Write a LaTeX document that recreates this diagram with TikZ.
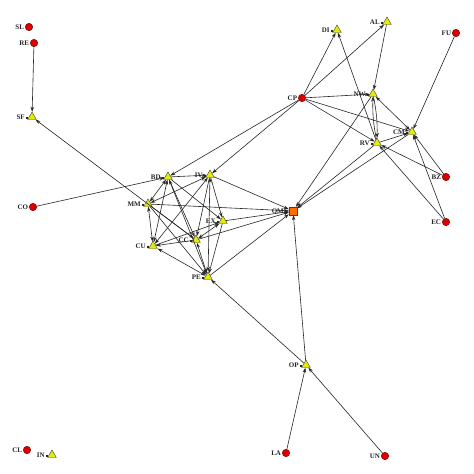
\documentclass[tikz,border=0pt]{standalone}
\usepackage{fontspec}
\setmainfont{Liberation Serif}
\usetikzlibrary{arrows.meta,shapes.geometric}

\newcommand{\tmark}{\,\rule[0.4pt]{2pt}{2pt}}

\begin{document}
\begin{tikzpicture}[x=1pt,y=-1pt,
		>={Stealth[length=5pt,width=3.4pt]},
		rednode/.style={circle, draw=red!45!black, fill=red!85!black, inner sep=0pt, minimum size=7.5pt},
		trinode/.style={regular polygon, regular polygon sides=3, draw=black!75, fill=yellow!90!green, inner sep=0pt, minimum size=10pt},
		sqnode/.style={rectangle, draw=black!75, fill=orange!85!red, inner sep=0pt, minimum size=8pt},
		every label/.style={font=\bfseries\fontsize{7}{8}\selectfont, inner sep=0.8pt, text=black!85},
		link/.style={->, draw=black!85, line width=0.6pt},
		]
		\fill[white] (0,0) rectangle (474,474);
		\useasboundingbox (0,0) rectangle (474,474);
		
		%Nodes
		\node[rednode, label=left:SL] (sl) at (29,27) {};
		\node[rednode, label=left:RE] (re) at (34,43) {};
		\node[trinode, label=left:SF\tmark] (sf) at (32,117) {};
		\node[rednode, label=left:CO] (co) at (33,207) {};
		\node[rednode, label=left:CL] (cl) at (27,450) {};
		\node[trinode, label=left:IN\tmark] (in) at (52,455) {};
		
		\node[trinode, label=left:BD\tmark] (bd) at (168,177) {};
		\node[trinode, label=left:IV\tmark] (iv) at (210,175) {};
		\node[trinode, label=left:MM\tmark] (mm) at (148,204) {};
		\node[trinode, label=left:EX\tmark] (ex) at (223,221) {};
		\node[trinode, label=left:CU\tmark] (cu) at (153,246) {};
		\node[trinode, label=left:CC\tmark] (cc) at (196,240) {};
		\node[trinode, label=left:PE\tmark] (pe) at (208,277) {};
		\node[sqnode, label={[xshift=-4pt]left:OM}] (om) at (293,211) {};
		
		\node[rednode, label=left:CP] (cp) at (302,98) {};
		\node[trinode, label=left:DI\tmark] (di) at (337,30) {};
		\node[trinode, label=left:AL\tmark] (al) at (387,22) {};
		\node[rednode, label=left:FU] (fu) at (456,33) {};
		\node[trinode, label=left:NW\tmark] (nw) at (373,94) {};
		\node[trinode, label=left:RV\tmark] (rv) at (377,143) {};
		\node[trinode, label=left:CM\tmark] (cm) at (412,132) {};
		\node[rednode, label=left:BZ] (bz) at (446,177) {};
		\node[rednode, label=left:EC] (ec) at (446,222) {};
		
		\node[trinode, label=left:OP\tmark] (op) at (306,365) {};
		\node[rednode, label=left:LA] (la) at (286,453) {};
		\node[rednode, label=left:UN] (un) at (385,456) {};
		
		%Lines
		\draw[link] (re) -- (sf);
		\draw[link] (cc) -- (sf);
		\draw[link] (co) -- (bd);
		
		\draw[link] (cp) -- (bd);
		\draw[link] (cp) -- (iv);
		\draw[link] (cp) -- (di);
		\draw[link] (cp) -- (al);
		\draw[link] (cp) -- (nw);
		\draw[link] (cp) -- (rv);
		\draw[link] (cp) -- (cm);
		\draw[link] (rv) -- (di);
		\draw[link] (al) -- (nw);
		\draw[link] (nw) to[bend left=6] (rv);
		\draw[link] (rv) to[bend left=6] (nw);
		\draw[link,<->] (nw) -- (cm);
		\draw[link] (rv) -- (cm);
		\draw[link] (fu) -- (cm);
		\draw[link] (bz) -- (rv);
		\draw[link] (bz) -- (cm);
		\draw[link] (ec) -- (rv);
		\draw[link] (ec) -- (cm);
		\draw[link] (nw) -- (om);
		\draw[link] (rv) -- (om);
		\draw[link] (cm) -- (om);
		
		\draw[link] (op) -- (om);
		\draw[link] (op) -- (pe);
		\draw[link] (la) -- (op);
		\draw[link] (un) -- (op);
		
		\draw[link,<->] (mm) -- (bd);
		\draw[link,<->] (mm) -- (iv);
		\draw[link,<->] (mm) -- (cu);
		\draw[link,<->] (bd) -- (cu);
		\draw[link,<->] (iv) -- (cu);
		\draw[link] (bd) -- (iv);
		\draw[link] (bd) -- (ex);
		\draw[link] (bd) -- (cc);
		\draw[link,<->] (bd) -- (pe);
		\draw[link] (iv) -- (ex);
		\draw[link] (iv) -- (cc);
		\draw[link,<->] (iv) -- (pe);
		\draw[link] (mm) -- (cc);
		\draw[link] (mm) -- (pe);
		\draw[link] (cc) -- (cu);
		\draw[link,<->] (cu) -- (pe);
		\draw[link,<->] (cc) -- (ex);
		\draw[link,<->] (cc) -- (pe);
		\draw[link] (ex) -- (pe);
		\draw[link] (cu) -- (ex);
		
		\draw[link] (iv) -- (om);
		\draw[link] (mm) -- (om);
		\draw[link] (ex) -- (om);
		\draw[link] (cc) -- (om);
		\draw[link] (pe) -- (om);
\end{tikzpicture}
\end{document}
